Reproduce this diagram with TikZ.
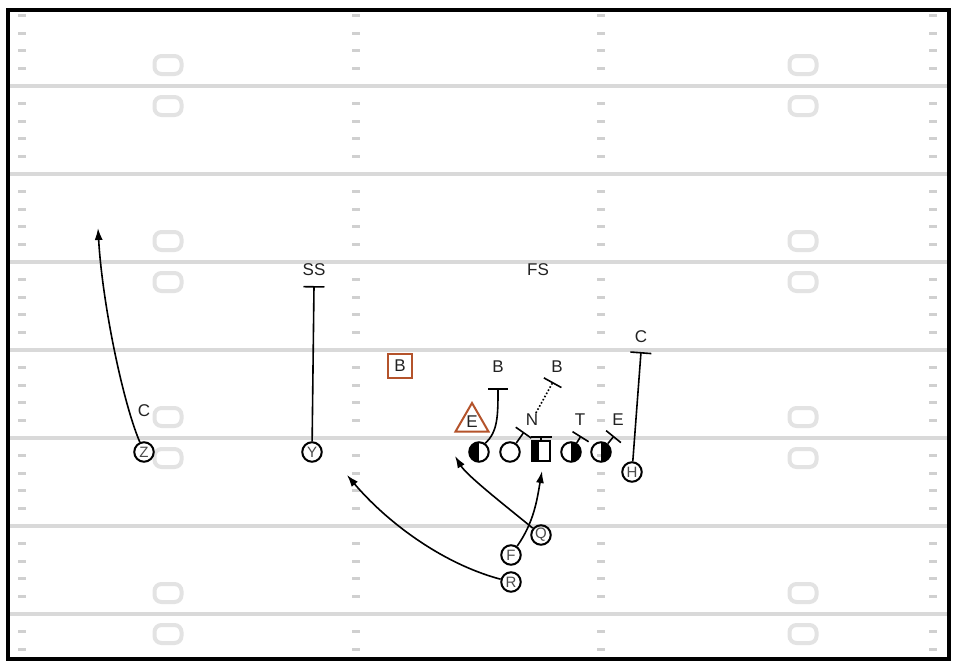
\documentclass[tikz,border=0pt]{standalone}
\usepackage{fontspec}
\setmainfont{Liberation Sans}
\usetikzlibrary{positioning}
\usetikzlibrary{arrows.meta}
\usetikzlibrary{shapes.geometric}

\definecolor{field}{HTML}{D9D9D9}
\definecolor{hashc}{HTML}{D0D0D0}
\definecolor{numc}{HTML}{E3E3E3}
\definecolor{dcol}{HTML}{B4532B}
\definecolor{ink}{HTML}{222222}

\begin{document}
\begin{tikzpicture}[x=1pt, y=-1pt]
	\tikzstyle{player} = [draw=black, circle, line width=2pt, minimum size=19.5pt, inner sep=0pt, font=\fontsize{15}{15}\selectfont, text=black!70]
	\tikzstyle{lineman} = [draw=black, circle, line width=2pt, minimum size=19.5pt, inner sep=0pt]
	\tikzstyle{lhalf} = [path picture={\fill (path picture bounding box.south west) rectangle (path picture bounding box.north);}]
	\tikzstyle{rhalf} = [path picture={\fill (path picture bounding box.south east) rectangle (path picture bounding box.north);}]
	\tikzstyle{lpart} = [path picture={\fill (path picture bounding box.south west) rectangle ([xshift=-2pt]path picture bounding box.north);}]
	\tikzstyle{lab} = [inner sep=1pt, font=\fontsize{17}{17}\selectfont, text=ink]
	\tikzstyle{route} = [draw, line width=1.6pt, -{Latex[length=12pt,width=8pt]}]
	\tikzstyle{block} = [draw, line width=1.6pt, -{Bar[width=21pt]}]
	\tikzstyle{yard} = [draw=field, line width=4pt]
	\tikzstyle{hash} = [fill=hashc, draw=none]
	\tikzstyle{num} = [draw=numc, line width=4pt, rounded corners=7pt]

	% field
	\useasboundingbox (0,0) rectangle (955,664);
	\fill [white] (0,0) rectangle (955,664);
	\begin{scope}
		\clip (9,11) rectangle (947,657);
		\foreach \yy in {86,174,...,614}
			\draw [yard] (9,\yy) -- (947,\yy);
		\foreach \xx in {22,356,601,933}
			\foreach \base in {-2,86,...,614}
				\foreach \k in {1,...,4}
					\fill [hash] (\xx-4,\base+17.6*\k-1.5) rectangle (\xx+4,\base+17.6*\k+1.5);
		\foreach \xx in {168,803}
			\foreach \yy in {86,262,438,614} {
				\draw [num] (\xx-13.5,\yy-30) rectangle (\xx+13.5,\yy-12);
				\draw [num] (\xx-13.5,\yy+11) rectangle (\xx+13.5,\yy+29);
			}
	\end{scope}
	\draw [line width=4pt] (7.5,9.5) rectangle (948.5,658.5);

	% offense
	\node [player] (z) at (144,452) {Z};
	\node [player] (y) at (312,452) {Y};
	\node [player] (h) at (632,472) {H};
	\node [player] (q) at (541,535) {Q};
	\node [player] (f) at (511,555) {F};
	\node [player] (r) at (511,582) {R};
	\node [lineman, lhalf] (lt) at (479,452) {};
	\node [lineman] (lg) at (510,452) {};
	\node [lineman, rectangle, minimum width=18pt, minimum height=20pt, lpart] (cn) at (541,451) {};
	\node [lineman, rhalf] (rg) at (571,452) {};
	\node [lineman, rhalf] (rt) at (601,452) {};

	% defense
	\node [lab] (cl) at (144,411) {C};
	\node [lab] (ss) at (314,270) {SS};
	\node [lab] (fs) at (538,270) {FS};
	\node [lab] (cr) at (641,337) {C};
	\node [lab] (bl) at (498,367) {B};
	\node [lab] (br) at (557,367) {B};
	\node [lab] (nt) at (532,420) {N};
	\node [lab] (dt) at (580,420) {T};
	\node [lab] (de) at (618,420) {E};
	\node [lab, draw=dcol, regular polygon, regular polygon sides=3, minimum size=38pt, line width=2pt, inner sep=0pt] (et) at (472,422) {E};
	\node [lab, draw=dcol, rectangle, minimum size=24pt, line width=2.2pt] (bb) at (400,366) {B};

	% routes
	\coordinate (zend) at (98,228);
	\coordinate (rend) at (347,475);
	\coordinate (qend) at (455,456);
	\coordinate (fend) at (542,471);
	\path [route] (z) .. controls (122,400) and (102,300) .. (zend);
	\path [route] (r) .. controls (440,563) and (385,520) .. (rend);
	\path [route] (q) .. controls (512,511) and (467,476) .. (qend);
	\path [route] (f) .. controls (534,522) and (537,500) .. (fend);

	% blocks
	\coordinate (ssbar) at (314,286);
	\coordinate (crbar) at (641,352);
	\coordinate (blbar) at (498,388);
	\coordinate (brbar) at (553,382);
	\coordinate (lgbar) at (524,432);
	\coordinate (cnbar) at (541,436);
	\coordinate (rgbar) at (581,436);
	\coordinate (rtbar) at (614,436);
	\path [block] (y) -- (ssbar);
	\path [block] (h) -- (crbar);
	\path [block, -{Bar[width=20pt]}] (lt.55) .. controls (498,432) and (498,415) .. (blbar);
	\path [block, dash pattern=on 1.6pt off 2pt, -{Bar[width=20pt]}] (nt) -- (brbar);
	\path [block, -{Bar[width=19pt]}] (lg) -- (lgbar);
	\path [block, -{Bar[width=21pt]}] (cn) -- (cnbar);
	\path [block, -{Bar[width=19pt]}] (rg) -- (rgbar);
	\path [block, -{Bar[width=19pt]}] (rt) -- (rtbar);
\end{tikzpicture}
\end{document}
